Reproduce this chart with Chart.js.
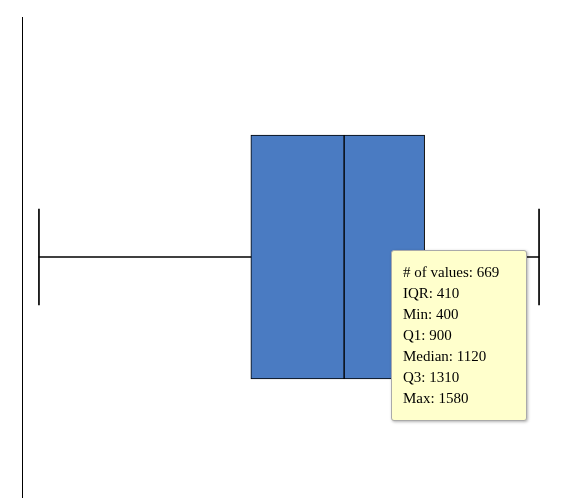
<!DOCTYPE html>
<html>
<head>
<meta charset="utf-8">
<script src="https://cdn.jsdelivr.net/npm/chart.js@4"></script>
<style>
  body { margin: 0; background: #fff; }
  #wrap { position: relative; width: 571px; height: 499px; }
  #tip {
    position: absolute; left: 391px; top: 250px; width: 136px;
    background: #ffffcc; border: 1px solid #aaa; border-radius: 3px;
    box-shadow: 1px 1px 3px rgba(0,0,0,0.3);
    font-family: "Liberation Serif", serif; font-size: 15px; line-height: 21px;
    padding: 11px 0 6px 11px; box-sizing: border-box; height: 171px; color: #000;
  }
</style>
</head>
<body>
<div id="wrap">
  <canvas id="boxChart" width="571" height="499"></canvas>
  <div id="tip"></div>
</div>
<script>
  const categories = ['values']
  const count = [669]
  const minVals = [400]
  const q1Vals = [900]
  const medianVals = [1120]
  const q3Vals = [1310]
  const maxVals = [1580]

  const fill = '#4a7bc2'

  document.getElementById('tip').innerHTML = [
    '# of values: ' + count[0],
    'IQR: ' + (q3Vals[0] - q1Vals[0]),
    'Min: ' + minVals[0],
    'Q1: ' + q1Vals[0],
    'Median: ' + medianVals[0],
    'Q3: ' + q3Vals[0],
    'Max: ' + maxVals[0]
  ].join('<br>')

  const bars = (vals, color, thick, border) => ({
    data: vals, backgroundColor: color, barThickness: thick,
    borderColor: '#000', borderWidth: border, borderSkipped: false, grouped: false
  })

  new Chart(document.getElementById('boxChart').getContext('2d'), {
    type: 'bar',
    data: {
      labels: categories,
      datasets: [
        bars(minVals.map((m, i) => [m, q1Vals[i]]), '#000', 1, 0),
        bars(q3Vals.map((q, i) => [q, maxVals[i]]), '#000', 1, 0),
        bars(minVals.map(m => [m - 1.2, m + 1.2]), '#000', 96, 0),
        bars(maxVals.map(m => [m - 1.2, m + 1.2]), '#000', 96, 0),
        bars(q1Vals.map((q, i) => [q, medianVals[i]]), fill, 244, 1),
        bars(medianVals.map((m, i) => [m, q3Vals[i]]), fill, 244, 1)
      ]
    },
    options: {
      indexAxis: 'y',
      responsive: false,
      animation: false,
      layout: { padding: { left: 22, right: 15, top: 17, bottom: 2 } },
      plugins: { legend: { display: false }, tooltip: { enabled: false } },
      scales: {
        x: { min: 360, max: 1620, display: false },
        y: {
          ticks: { display: false },
          grid: { display: false, drawTicks: false },
          border: { display: true, color: '#000', width: 1 }
        }
      }
    }
  })
</script>
</body>
</html>
